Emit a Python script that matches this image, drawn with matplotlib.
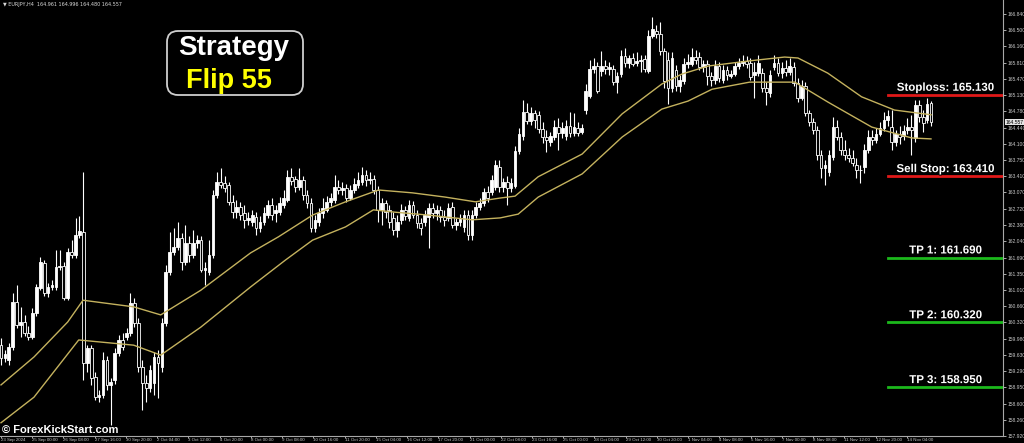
import matplotlib.pyplot as plt
import matplotlib.patheffects as pe
from matplotlib.patches import FancyBboxPatch

# EURJPY H4 candles
opens = [
    159.85, 159.57, 159.53, 159.80, 160.76, 160.27, 160.33, 160.10, 160.02, 160.52,
    161.05, 161.58, 160.95, 161.07, 161.07, 161.50, 161.52, 160.84, 161.81, 161.75,
    162.17, 162.24, 159.47, 159.78, 159.17, 158.75, 158.79, 159.53, 159.00, 159.10,
    159.68, 159.95, 160.02, 160.10, 160.73, 160.31, 159.38, 159.04, 158.94, 159.04,
    159.59, 159.38, 160.31, 161.39, 161.81, 161.92, 162.11, 161.60, 162.00, 161.75,
    162.00, 162.06, 161.43, 161.39, 161.75, 163.02, 163.29, 163.27, 163.23, 162.87,
    162.66, 162.76, 162.64, 162.49, 162.45, 162.55, 162.32, 162.45, 162.59, 162.81,
    162.64, 162.66, 162.81, 162.91, 163.40, 163.36, 163.19, 163.33, 163.02, 162.85,
    162.32, 162.45, 162.64, 162.70, 162.87, 162.91, 163.19, 163.12, 163.17, 162.95,
    163.12, 163.23, 163.29, 163.44, 163.33, 163.36, 163.12, 162.70, 162.85, 162.70,
    162.53, 162.28, 162.49, 162.70, 162.53, 162.81, 162.59, 162.43, 162.45, 162.55,
    162.74, 162.64, 162.70, 162.55, 162.53, 162.76, 162.38, 162.45, 162.34, 162.59,
    162.17, 162.59, 162.76, 162.85, 163.08, 163.08, 163.19, 163.61, 163.19, 163.29,
    163.17, 163.21, 163.95, 164.27, 164.77, 164.58, 164.75, 164.71, 164.41, 164.24,
    164.14, 164.24, 164.45, 164.33, 164.27, 164.48, 164.33, 164.43, 164.35, 164.81,
    165.11, 165.68, 165.74, 165.64, 165.74, 165.68, 165.68, 165.41, 165.58, 165.96,
    165.81, 165.91, 165.81, 165.85, 165.89, 165.64, 166.38, 166.48, 166.42, 166.06,
    165.87, 165.28, 165.66, 165.32, 165.43, 165.79, 165.79, 165.94, 165.94, 165.72,
    165.79, 165.53, 165.45, 165.74, 165.45, 165.66, 165.53, 165.58, 165.74, 165.81,
    165.85, 165.81, 165.55, 165.60, 165.60, 165.28, 165.17, 165.72, 165.81, 165.60,
    165.70, 165.62, 165.72, 165.38, 165.07, 165.32, 164.75, 164.56, 164.39, 163.86,
    163.59, 163.50, 163.82, 164.45, 164.24, 163.97, 163.86, 163.80, 163.65, 163.55,
    163.61, 163.97, 164.24, 164.18, 164.31, 164.43, 164.60, 164.45, 164.14, 164.31,
    164.27, 164.39, 164.45, 164.22, 164.92, 164.67, 164.60, 164.961,
]
highs = [
    160.00, 159.74, 159.89, 160.95, 161.12, 160.65, 160.48, 160.25, 160.63, 161.14,
    161.71, 161.64, 161.16, 161.22, 161.85, 161.85, 161.60, 161.90, 162.06, 162.53,
    162.57, 163.50, 159.85, 159.85, 159.28, 158.89, 159.70, 159.61, 159.15, 159.78,
    160.06, 160.10, 160.21, 160.95, 160.84, 160.42, 159.53, 159.21, 159.42, 159.70,
    159.74, 160.42, 161.54, 162.24, 162.32, 162.45, 162.21, 162.38, 162.15, 162.28,
    162.17, 162.15, 161.60, 162.06, 163.12, 163.50, 163.59, 163.42, 163.29, 163.02,
    162.91, 162.87, 162.81, 162.66, 162.70, 162.66, 162.57, 162.76, 162.91, 162.95,
    162.81, 162.98, 163.12, 163.55, 163.59, 163.42, 163.59, 163.42, 163.12, 162.95,
    162.59, 162.74, 162.95, 163.00, 163.06, 163.44, 163.33, 163.29, 163.25, 163.23,
    163.38, 163.50, 163.61, 163.55, 163.50, 163.44, 163.21, 162.95, 162.91, 162.81,
    162.66, 162.59, 162.83, 162.78, 162.91, 162.89, 162.70, 162.53, 162.70, 162.85,
    162.85, 162.81, 162.78, 162.70, 162.85, 162.87, 162.53, 162.61, 162.70, 162.70,
    162.70, 162.87, 162.95, 163.17, 163.21, 163.44, 163.76, 163.76, 163.38, 163.42,
    163.38, 164.05, 164.43, 165.03, 164.96, 164.88, 164.81, 164.79, 164.56, 164.39,
    164.35, 164.60, 164.64, 164.56, 164.60, 164.77, 164.75, 164.56, 164.52, 165.36,
    165.87, 165.91, 165.83, 166.06, 165.87, 165.83, 165.77, 165.62, 166.08, 166.13,
    165.98, 166.02, 166.04, 165.98, 165.98, 166.50, 166.78, 166.61, 166.67, 166.13,
    166.04, 166.04, 165.77, 165.55, 165.91, 166.00, 166.13, 166.08, 166.04, 165.87,
    165.87, 165.62, 165.87, 165.83, 165.77, 165.74, 165.66, 165.83, 165.91, 165.98,
    165.96, 165.91, 165.83, 165.98, 165.70, 165.41, 165.66, 165.98, 165.91, 165.83,
    165.87, 165.91, 165.83, 165.49, 165.45, 165.41, 164.81, 164.64, 164.48, 163.97,
    163.76, 163.97, 164.67, 164.60, 164.35, 164.18, 164.01, 163.97, 163.80, 163.65,
    164.10, 164.39, 164.39, 164.43, 164.56, 164.77, 164.81, 164.81, 164.39, 164.48,
    164.50, 164.64, 164.71, 165.02, 165.02, 164.81, 165.07, 164.996,
]
lows = [
    159.42, 159.49, 159.42, 159.74, 160.21, 160.01, 160.04, 159.95, 159.97, 160.46,
    161.01, 160.88, 160.86, 161.01, 161.01, 161.43, 160.80, 160.80, 161.68, 161.68,
    162.11, 159.10, 159.28, 159.00, 158.68, 158.64, 158.73, 158.89, 158.16, 159.02,
    159.61, 159.74, 159.95, 160.04, 160.23, 159.28, 158.47, 158.64, 158.85, 158.79,
    158.73, 159.28, 160.25, 161.33, 161.75, 161.85, 161.43, 161.54, 161.60, 161.68,
    161.90, 161.39, 161.12, 161.33, 161.68, 162.95, 163.17, 163.08, 162.81, 162.53,
    162.53, 162.49, 162.32, 162.38, 162.36, 162.17, 162.24, 162.38, 162.53, 162.49,
    162.45, 162.59, 162.74, 162.87, 163.23, 163.08, 163.12, 162.91, 162.74, 162.24,
    162.24, 162.36, 162.53, 162.66, 162.78, 162.85, 163.04, 163.02, 162.87, 162.91,
    163.06, 163.17, 163.23, 163.21, 163.25, 163.04, 162.45, 162.38, 162.53, 162.32,
    162.17, 162.13, 162.40, 162.49, 162.47, 162.53, 162.32, 162.17, 162.36, 161.90,
    162.53, 162.49, 162.45, 162.36, 162.47, 162.32, 162.28, 162.36, 162.24, 162.06,
    162.06, 162.53, 162.70, 162.78, 162.87, 163.02, 163.12, 163.08, 163.08, 162.81,
    163.08, 163.17, 163.88, 164.18, 164.52, 164.50, 164.43, 164.33, 164.12, 163.93,
    164.05, 164.18, 163.97, 164.22, 164.18, 164.24, 164.27, 164.27, 164.31, 164.73,
    165.07, 165.60, 165.17, 165.53, 165.58, 165.55, 165.34, 165.17, 165.51, 165.72,
    165.70, 165.74, 165.74, 165.62, 165.62, 165.60, 166.34, 166.34, 165.98, 165.28,
    164.94, 165.19, 165.21, 165.19, 165.36, 165.70, 165.74, 165.79, 165.66, 165.62,
    165.34, 165.32, 165.36, 165.41, 165.38, 165.45, 165.49, 165.53, 165.68, 165.74,
    165.70, 165.45, 165.07, 165.53, 165.19, 164.92, 165.09, 165.66, 165.53, 165.49,
    165.53, 165.55, 165.32, 164.98, 165.02, 164.69, 164.48, 164.31, 163.76, 163.38,
    163.23, 163.42, 163.76, 164.18, 163.86, 163.76, 163.71, 163.63, 163.38, 163.27,
    163.48, 163.90, 164.08, 164.12, 164.27, 164.37, 164.48, 163.97, 164.05, 164.10,
    164.18, 164.31, 163.86, 164.14, 164.56, 164.35, 164.54, 164.48,
]
closes = [
    159.57, 159.66, 159.80, 160.76, 160.27, 160.33, 160.10, 160.02, 160.52, 161.07,
    161.60, 160.95, 161.07, 161.12, 161.50, 161.52, 160.84, 161.81, 161.75, 162.17,
    162.26, 159.47, 159.78, 159.15, 158.75, 158.79, 159.53, 159.00, 159.06, 159.68,
    159.95, 159.80, 160.10, 160.73, 160.31, 159.38, 159.04, 158.94, 159.31, 159.59,
    159.47, 160.31, 161.39, 161.81, 161.92, 162.11, 161.60, 162.00, 161.75, 162.00,
    162.06, 161.43, 161.47, 161.75, 163.02, 163.29, 163.23, 163.17, 162.87, 162.66,
    162.76, 162.59, 162.49, 162.53, 162.59, 162.32, 162.45, 162.64, 162.81, 162.59,
    162.70, 162.85, 162.95, 163.40, 163.31, 163.19, 163.33, 163.02, 162.85, 162.32,
    162.49, 162.64, 162.74, 162.87, 162.95, 163.19, 163.12, 163.17, 162.95, 163.12,
    163.25, 163.33, 163.44, 163.33, 163.36, 163.12, 162.70, 162.85, 162.66, 162.45,
    162.28, 162.45, 162.70, 162.57, 162.81, 162.59, 162.43, 162.32, 162.59, 162.74,
    162.64, 162.70, 162.55, 162.49, 162.74, 162.38, 162.45, 162.51, 162.59, 162.17,
    162.59, 162.76, 162.85, 163.08, 162.95, 163.33, 163.65, 163.19, 163.29, 163.17,
    163.27, 163.95, 164.31, 164.77, 164.58, 164.75, 164.60, 164.41, 164.24, 164.18,
    164.27, 164.45, 164.33, 164.43, 164.48, 164.33, 164.45, 164.33, 164.43, 165.21,
    165.68, 165.74, 165.21, 165.74, 165.68, 165.72, 165.41, 165.53, 165.96, 165.81,
    165.91, 165.79, 165.85, 165.87, 165.68, 166.38, 166.53, 166.42, 166.06, 165.43,
    165.28, 165.91, 165.32, 165.45, 165.79, 165.83, 165.94, 165.87, 165.72, 165.79,
    165.53, 165.45, 165.74, 165.49, 165.66, 165.55, 165.58, 165.74, 165.81, 165.85,
    165.79, 165.51, 165.62, 165.81, 165.28, 165.19, 165.55, 165.81, 165.60, 165.70,
    165.62, 165.74, 165.38, 165.07, 165.32, 164.75, 164.56, 164.39, 163.86, 163.59,
    163.65, 163.86, 164.45, 164.24, 163.97, 163.86, 163.80, 163.69, 163.55, 163.54,
    163.97, 164.24, 164.18, 164.31, 164.43, 164.60, 164.69, 164.14, 164.31, 164.24,
    164.37, 164.45, 164.39, 164.92, 164.67, 164.54, 164.94, 164.557,
]

# 55-period bands (high / low), sampled along the chart
upper_idx = [0, 8.4, 17.0, 20.9, 33.8, 40.7, 50.9, 63.6, 70.7, 79.4, 87.8, 96.2, 104.8, 113.2, 120.9,
             127.2, 131.0, 136.9, 148.1, 158.3, 168.4, 173.5, 180.2, 190.8, 199.7, 203.1, 210.7, 219.3, 227.7, 237]
upper_val = [159.00, 159.59, 160.33, 160.79, 160.65, 160.48, 161.00, 161.79, 162.13, 162.59, 162.87, 163.12, 163.06, 162.97, 162.87,
             162.95, 162.99, 163.40, 163.88, 164.73, 165.36, 165.57, 165.74, 165.85, 165.93, 165.91, 165.59, 165.09, 164.81, 164.71]
lower_idx = [0, 8.4, 19.8, 33.8, 40.7, 50.9, 63.6, 72.5, 79.4, 87.8, 94.9, 100.5, 108.9, 113.2, 120.1,
             127.2, 131.8, 136.9, 148.1, 158.3, 168.4, 175.1, 181.2, 190.8, 202.3, 210.7, 221.9, 232.1, 237]
lower_val = [158.20, 158.74, 159.95, 159.84, 159.63, 160.22, 161.07, 161.64, 162.06, 162.34, 162.70, 162.65, 162.59, 162.55, 162.49,
             162.53, 162.61, 162.97, 163.46, 164.24, 164.83, 165.00, 165.25, 165.40, 165.40, 164.98, 164.45, 164.22, 164.20]

price_ticks = [166.840, 166.500, 166.160, 165.810, 165.470, 165.130, 164.780, 164.440, 164.100, 163.750,
               163.410, 163.070, 162.720, 162.380, 162.040, 161.690, 161.350, 161.010, 160.660, 160.320,
               159.980, 159.630, 159.290, 158.950, 158.600, 158.260, 157.920]
time_labels = ['23 Sep 2024', '25 Sep 00:00', '26 Sep 08:00', '27 Sep 16:00', '30 Sep 20:00', '2 Oct 04:00',
               '3 Oct 12:00', '4 Oct 20:00', '8 Oct 00:00', '9 Oct 08:00', '10 Oct 16:00', '11 Oct 20:00',
               '15 Oct 04:00', '16 Oct 12:00', '17 Oct 20:00', '21 Oct 00:00', '22 Oct 08:00', '23 Oct 16:00',
               '25 Oct 00:00', '28 Oct 04:00', '29 Oct 12:00', '30 Oct 20:00', '1 Nov 04:00', '4 Nov 08:00',
               '5 Nov 16:00', '7 Nov 00:00', '8 Nov 08:00', '11 Nov 12:00', '12 Nov 20:00', '14 Nov 04:00']

levels = [165.130, 163.410, 161.690, 160.320, 158.950]
level_names = ['Stoploss', 'Sell Stop', 'TP 1', 'TP 2', 'TP 3']
level_colors = ['#e01818', '#e01818', '#1cb81c', '#1cb81c', '#1cb81c']

assert len(opens) == len(highs) == len(lows) == len(closes)

fig = plt.figure(figsize=(10.24, 4.43), dpi=100, facecolor='black')
ax = fig.add_axes([0, 7 / 443, 1003 / 1024, 436 / 443], facecolor='black')

idx = list(range(len(closes)))
bull = [c >= o for o, c in zip(opens, closes)]

# candles
ax.vlines(idx, lows, highs, color='white', lw=0.8, zorder=2)
ax.bar(idx, [c - o for o, c in zip(opens, closes)], bottom=opens, width=0.7,
       color=['white' if b else 'black' for b in bull], edgecolor='white', linewidth=0.6, zorder=3)

# bands
ax.plot(upper_idx, upper_val, color='#c4b25e', lw=1.0, zorder=4)
ax.plot(lower_idx, lower_val, color='#c4b25e', lw=1.0, zorder=4)

ax.set_xlim(-0.255, 255.35)
ax.set_ylim(157.92, 167.136)

# axes like the terminal
for s in ['top', 'left']:
    ax.spines[s].set_visible(False)
for s in ['right', 'bottom']:
    ax.spines[s].set_color('#a8a8a8')
    ax.spines[s].set_linewidth(0.8)

ax.yaxis.tick_right()
ax.set_yticks(price_ticks)
ax.set_yticklabels([f'{p:.3f}' for p in price_ticks], family='Liberation Sans')
ax.tick_params(axis='y', colors='#c8c8c8', labelsize=3.6, length=2, width=0.6, pad=1)

ax.set_xticks([k * 7.96 for k in range(len(time_labels))])
ax.set_xticklabels(time_labels, family='Liberation Sans', ha='left')
ax.tick_params(axis='x', colors='#c8c8c8', labelsize=3.2, length=1.5, width=0.6, pad=0.2)

# current price tag
ax.text(1.003, closes[-1], f'{closes[-1]:.3f}', transform=ax.get_yaxis_transform(), fontsize=3.6,
        family='Liberation Sans', color='black', va='center', ha='left', clip_on=False, zorder=10,
        bbox=dict(boxstyle='square,pad=0.15', fc='#e4e4e4', ec='none'))

# trade levels
outline = [pe.withStroke(linewidth=1.5, foreground='black')]
for lv, name, col in zip(levels, level_names, level_colors):
    ax.axhline(lv, xmin=0.885, xmax=1.0, color=col, lw=2, zorder=6)
    ax.annotate(f'{name}: {lv:.3f}', xy=(0.943, lv), xycoords=ax.get_yaxis_transform(),
                xytext=(0, 3), textcoords='offset points', ha='center', va='baseline',
                fontsize=8.3, weight='bold', color='white', family='Liberation Sans',
                path_effects=outline, zorder=7)

# title box
box = FancyBboxPatch((167 / 1024, 1 - 95 / 443), 136 / 1024, 64 / 443, transform=fig.transFigure,
                     boxstyle='round,pad=0,rounding_size=0.0107', mutation_aspect=1024 / 443,
                     fc='black', ec='#cfcfcf', lw=1.3, zorder=8)
fig.add_artist(box)
fig.text(234 / 1024, 1 - 55 / 443, 'Strategy', ha='center', va='baseline', fontsize=20, weight='bold',
         color='white', family='Liberation Sans', zorder=9)
fig.text(229 / 1024, 1 - 88 / 443, 'Flip 55', ha='center', va='baseline', fontsize=19.5, weight='bold',
         color='#ffff00', family='Liberation Sans', zorder=9)

# header and watermark
fig.text(3 / 1024, 1 - 2 / 443, '\u25bc EURJPY,H4  164.961 164.996 164.480 164.557', ha='left', va='top',
         fontsize=3.5, color='#d8d8d8')
fig.text(2 / 1024, 10 / 443, '\u00a9 ForexKickStart.com', ha='left', va='baseline', fontsize=8,
         weight='bold', color='white', family='Liberation Sans', zorder=9)

plt.savefig('out.png', dpi=100, facecolor='black')
